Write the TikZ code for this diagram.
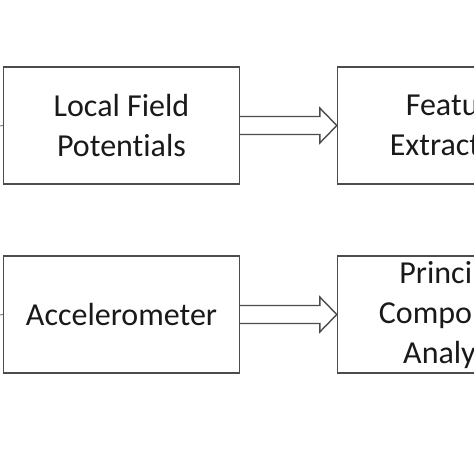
\documentclass[tikz,border=0pt]{standalone}
\usepackage{fontspec}
\setmainfont{Carlito}[Ligatures=NoCommon]
\usetikzlibrary{calc,positioning}

\begin{document}
\begin{tikzpicture}[x=1pt,y=-1pt,align=center]
  \def \w {236}
  \def \h {117}
  \tikzset{
    stage/.style={draw=black!70, line width=1.4pt, minimum width=\w pt,
      minimum height=\h pt, inner sep=0pt, text=black!90,
      font=\fontsize{32}{40}\selectfont},
    hollow/.style={draw=black!70, line width=1.4pt, fill=white, line join=miter}
  }
  \clip (0,0) rectangle (474,474);

  \node[stage] (lfp) at (121.5,125.5) {Local Field\\Potentials};
  \node[stage] (fe) at (455.5,125.5) {Feature\\Extraction};
  \node[stage] (acc) at (121.5,314.5) {Accelerometer};
  \node[stage] (pca) at (455.5,314.5) {Principal\\Component\\Analysis};

  %% stubs coming in from the left
  \coordinate (in1) at (0,126);
  \coordinate (in2) at (0,315);
  \draw[black!50, line width=1pt] (in1) -- (lfp.west);
  \draw[black!50, line width=1pt] (in2) -- (acc.west);

  %% hollow block arrows between the stages
  \foreach \a/\b in {lfp/fe, acc/pca} {
    \draw[hollow] ($(\a.east)+(0,-9)$) -- ($(\b.west)+(-17,-9)$)
      -- ($(\b.west)+(-17,-17.5)$) -- (\b.west)
      -- ($(\b.west)+(-17,17.5)$) -- ($(\b.west)+(-17,9)$)
      -- ($(\a.east)+(0,9)$);
  }
\end{tikzpicture}
\end{document}
